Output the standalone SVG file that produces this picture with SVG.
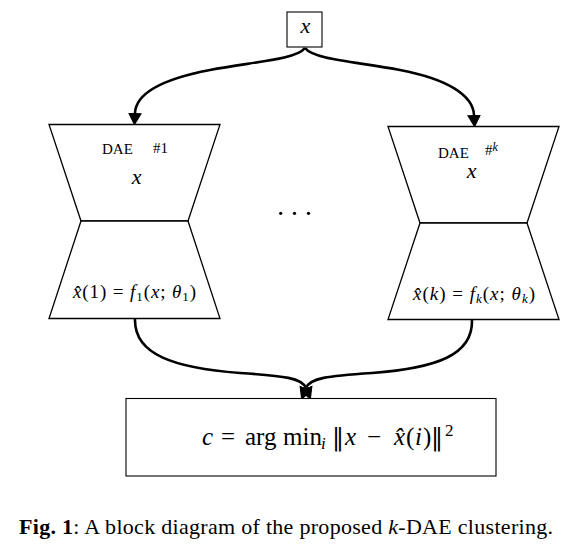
<svg xmlns="http://www.w3.org/2000/svg" width="579" height="555" viewBox="0 0 579 555">
<defs>
<style>
text{font-family:"Liberation Serif","Times New Roman",serif;fill:#000}
.i{font-style:italic}
.n{font-family:"DejaVu Serif",serif}
.shape{fill:#fff;stroke:#000;stroke-width:1.3}
.box{fill:#fff;stroke:#000;stroke-width:1.1}
.thick{fill:none;stroke:#000;stroke-width:2.6}
.thin{fill:none;stroke:#000;stroke-width:1.1}
</style>
<marker id="tri" markerUnits="userSpaceOnUse" markerWidth="14" markerHeight="14" refX="0" refY="6" orient="auto" viewBox="0 0 12 12">
<path d="M0,0 L11,6 L0,12 z" fill="#000"/>
</marker>
<marker id="vee" markerUnits="userSpaceOnUse" markerWidth="12" markerHeight="12" refX="10" refY="6" orient="auto" viewBox="0 0 12 12">
<path d="M0,2.5 Q5,5 10,6 Q5,7 0,9.5" fill="none" stroke="#000" stroke-width="1"/>
</marker>
</defs>
<rect width="579" height="555" fill="#fff"/>

<g id="connectors">
<path class="thick" d="M305,48 C296,60 250,62 210,70 C163,79 136,93 135,113" marker-end="url(#tri)"/>
<path class="thick" d="M305,48 C314,60 360,62 400,70 C447,79 473,95 474,115" marker-end="url(#tri)"/>
<path class="thick" d="M135,319 C134,355 175,368 240,373 C285,376 302,378 306,388" marker-end="url(#tri)"/>
<path class="thick" d="M472,320 C473,355 437,368 372,373 C327,376 310,378 306,388" marker-end="url(#tri)"/>
<path class="thin" d="M136.7,201 L136.7,263" marker-end="url(#vee)"/>
<path class="thin" d="M471.7,195 L471.7,263" marker-end="url(#vee)"/>
</g>

<g id="input">
<rect class="box" x="287" y="12" width="35" height="35"/>
<text x="305.5" y="33" font-size="22" class="i" text-anchor="middle">x</text>
</g>

<g id="dae1">
<polygon class="shape" points="49,124.5 220,124.5 188,221 81,221"/>
<polygon class="shape" points="81,221 188,221 220,318.5 49,318.5"/>
<text x="102" y="154" font-size="15">DAE</text>
<text x="153" y="153" font-size="15">#1</text>
<text x="136.7" y="184" font-size="22" class="i" text-anchor="middle">x</text>
<text x="73" y="298" font-size="19" textLength="123" lengthAdjust="spacing"><tspan class="i">x̂</tspan>(1) = <tspan class="i">f</tspan><tspan font-size="13" dy="3">1</tspan><tspan dy="-3">(</tspan><tspan class="i">x</tspan>; <tspan class="i">θ</tspan><tspan font-size="13" dy="3">1</tspan><tspan dy="-3">)</tspan></text>
</g>

<g id="daek">
<polygon class="shape" points="388,126.5 559,126.5 527,223 420,223"/>
<polygon class="shape" points="420,223 527,223 559,319.5 388,319.5"/>
<text x="438" y="158" font-size="15">DAE</text>
<text x="485" y="155" font-size="15">#<tspan class="i" font-size="12" dy="-4">k</tspan></text>
<text x="471.7" y="178" font-size="22" class="i" text-anchor="middle">x</text>
<text x="413" y="300" font-size="19" textLength="122" lengthAdjust="spacing"><tspan class="i">x̂</tspan>(<tspan class="i">k</tspan>) = <tspan class="i">f</tspan><tspan class="i" font-size="13" dy="3">k</tspan><tspan dy="-3">(</tspan><tspan class="i">x</tspan>; <tspan class="i">θ</tspan><tspan class="i" font-size="13" dy="3">k</tspan><tspan dy="-3">)</tspan></text>
</g>

<g id="ellipsis">
<circle cx="280.7" cy="213.3" r="1.6"/>
<circle cx="294.5" cy="213.3" r="1.6"/>
<circle cx="308.5" cy="213.3" r="1.6"/>
</g>

<g id="cluster">
<rect class="box" x="126" y="398.5" width="370" height="77.5"/>
<text y="445" font-size="25"><tspan x="202" class="i">c</tspan><tspan x="221">=</tspan><tspan x="245">arg</tspan><tspan x="283">min</tspan><tspan x="321" y="449" class="i" font-size="17">i</tspan><tspan x="332" y="445" class="n" font-size="24">‖</tspan><tspan x="345" class="i">x</tspan><tspan x="367">−</tspan><tspan x="394" class="i">x̂</tspan><tspan x="406">(</tspan><tspan x="415" class="i">i</tspan><tspan x="423">)</tspan><tspan x="431" class="n" font-size="24">‖</tspan><tspan x="445" y="436" font-size="17">2</tspan></text>
</g>

<g id="caption">
<text x="19" y="534" font-size="22" textLength="534" lengthAdjust="spacing"><tspan font-weight="bold">Fig. 1</tspan>: A block diagram of the proposed <tspan class="i">k</tspan>-DAE clustering.</text>
</g>
</svg>
